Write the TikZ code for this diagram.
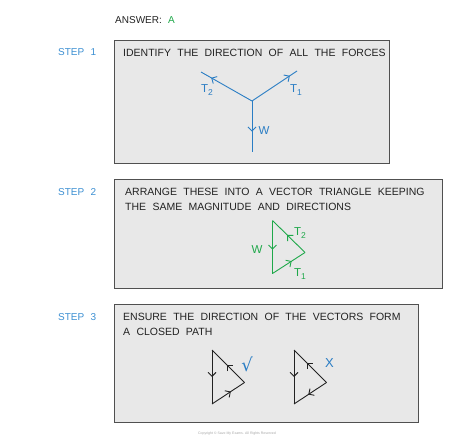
\documentclass[tikz,border=0pt]{standalone}
\usepackage{fontspec}
\setmainfont{Liberation Sans}
\newfontfamily\marksfont{DejaVu Sans}
\usetikzlibrary{arrows.meta}
\usetikzlibrary{decorations.markings}
\usetikzlibrary{positioning}
\definecolor{panelgrey}{HTML}{E8E8E8}
\definecolor{edgegrey}{HTML}{505050}
\definecolor{stepblue}{HTML}{3C8FD2}
\definecolor{forceblue}{HTML}{2A7DC4}
\definecolor{forcegreen}{HTML}{1FA84A}
\definecolor{inkgrey}{HTML}{222222}
\newcommand{\widespaces}{\spaceskip 6.3pt\relax}
\tikzset{
  x = 1pt, y = -1pt,
  panel/.style = {rectangle,
                  draw = edgegrey,
                  fill = panelgrey,
                  line width = 0.9pt,
                  anchor = north west,
                  inner sep = 0pt},
  steplabel/.style = {font = \fontsize{10}{11}\selectfont\widespaces,
                      text = stepblue,
                      anchor = west,
                      inner sep = 0pt},
  steptext/.style = {font = \fontsize{10.5}{15}\selectfont\widespaces,
                     text = inkgrey,
                     align = left,
                     inner sep = 0pt},
  force/.style = {line width = 0.9pt},
  midarrow/.style = {postaction = {decorate},
                     decoration = {markings,
                                   mark = at position #1 with {\arrow{Straight Barb[length=4pt,width=8pt]}}}},
  forcelabel/.style = {font = \fontsize{11.5}{12}\selectfont,
                       inner sep = 0pt}
}
\newcommand{\sub}[2]{#1\raisebox{-3pt}{\fontsize{8.5}{9}\selectfont #2}}

\begin{document}
\begin{tikzpicture}
\useasboundingbox (0,0) rectangle (474,441);

\node[steplabel, text = inkgrey](answer) at (115,20){ANSWER: \textcolor{forcegreen}{A}};

% step 1
\node[panel, minimum width = 275pt, minimum height = 123pt](panel1) at (114,40){};
\node[steplabel](step1) at (58,52){STEP 1};
\node[steptext](text1)[below right = 8.5pt and 9pt of panel1.north west]{IDENTIFY THE DIRECTION OF ALL THE FORCES};

\coordinate (hub) at (252,101);
\coordinate (t2-end) at (201,72);
\coordinate (t1-end) at (297,71);
\coordinate (w-end) at (252,152);
\draw[force, forceblue, midarrow = 0.8] (hub) -- (t2-end);
\draw[force, forceblue, midarrow = 0.84] (hub) -- (t1-end);
\draw[force, forceblue, midarrow = 0.6] (hub) -- (w-end);
\node[forcelabel, text = forceblue](t2-lab) at (207,90){\sub{T}{2}};
\node[forcelabel, text = forceblue](t1-lab) at (296,90){\sub{T}{1}};
\node[forcelabel, text = forceblue](w-lab) at (264,131){W};

% step 2
\node[panel, minimum width = 327.5pt, minimum height = 109pt](panel2) at (114,179){};
\node[steplabel](step2) at (58,192){STEP 2};
\node[steptext](text2)[below right = 8.5pt and 11pt of panel2.north west]{ARRANGE THESE INTO A VECTOR TRIANGLE KEEPING\\THE SAME MAGNITUDE AND DIRECTIONS};

\coordinate (tri-top) at (272.5,220.5);
\coordinate (tri-bot) at (272.5,273.5);
\coordinate (tri-right) at (305,252.5);
\draw[force, forcegreen, midarrow = 0.55] (tri-top) -- (tri-bot);
\draw[force, forcegreen, midarrow = 0.59] (tri-bot) -- (tri-right);
\draw[force, forcegreen, midarrow = 0.55] (tri-right) -- (tri-top);
\node[forcelabel, text = forcegreen](tri-w) at (257,250){W};
\node[forcelabel, text = forcegreen](tri-t2) at (300,233){\sub{T}{2}};
\node[forcelabel, text = forcegreen](tri-t1) at (300,274){\sub{T}{1}};

% step 3
\node[panel, minimum width = 304pt, minimum height = 118pt](panel3) at (114,304){};
\node[steplabel](step3) at (58,317){STEP 3};
\node[steptext](text3)[below right = 8.5pt and 9pt of panel3.north west]{ENSURE THE DIRECTION OF THE VECTORS FORM\\A CLOSED PATH};

\coordinate (good-top) at (212,350);
\coordinate (good-bot) at (212,404);
\coordinate (good-right) at (244.5,382.5);
\draw[force, inkgrey, midarrow = 0.5] (good-top) -- (good-bot);
\draw[force, inkgrey, midarrow = 0.58] (good-bot) -- (good-right);
\draw[force, inkgrey, midarrow = 0.54] (good-right) -- (good-top);
\node[forcelabel, text = forceblue, font = \marksfont\fontsize{18}{19}\selectfont](tick) at (247,364){√};

\coordinate (bad-top) at (294,350);
\coordinate (bad-bot) at (294,404);
\coordinate (bad-right) at (326.5,382.5);
\draw[force, inkgrey, midarrow = 0.5] (bad-top) -- (bad-bot);
\draw[force, inkgrey, midarrow = 0.56] (bad-right) -- (bad-bot);
\draw[force, inkgrey, midarrow = 0.6] (bad-right) -- (bad-top);
\node[forcelabel, text = forceblue, font = \fontsize{13}{14}\selectfont](cross) at (329.5,363.5){X};

\node[font = \fontsize{3.5}{4}\selectfont, text = black!35, inner sep = 0pt](copyright) at (237,434){Copyright © Save My Exams. All Rights Reserved};

\end{tikzpicture}
\end{document}
